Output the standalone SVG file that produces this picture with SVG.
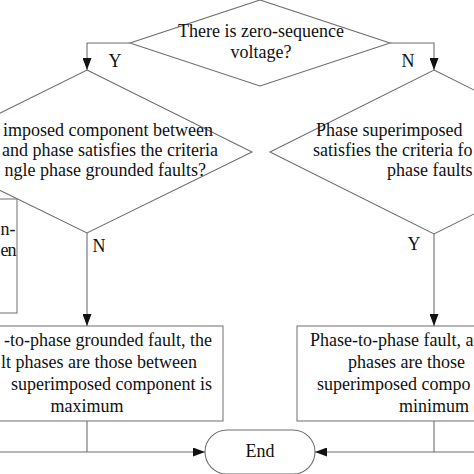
<svg xmlns="http://www.w3.org/2000/svg" width="474" height="474" viewBox="0 0 474 474">
<style>
.shape{fill:#fff;stroke:#6e6e6e;stroke-width:1.1}
.box{fill:#fff;stroke:#7a7a7a;stroke-width:1.1}
.conn{fill:none;stroke:#6e6e6e;stroke-width:1.1}
text{font-family:"Liberation Serif","Times New Roman",serif;font-size:18px;fill:#111}
.c{text-anchor:middle}
.e{text-anchor:end}
</style>
<defs>
<marker id="arr" markerUnits="userSpaceOnUse" markerWidth="12" markerHeight="9" refX="12" refY="4.5" orient="auto">
<path d="M0,0 L12,4.5 L0,9 z" fill="#111"/>
</marker>
</defs>
<rect width="474" height="474" fill="#fff"/>
<g id="connectors">
<line class="conn" x1="260" y1="-10" x2="260" y2="0"/>
<polyline class="conn" points="130,43 87,43 87,70" marker-end="url(#arr)"/>
<polyline class="conn" points="390,43 434,43 434,70" marker-end="url(#arr)"/>
<line class="conn" x1="87" y1="233" x2="87" y2="326" marker-end="url(#arr)"/>
<line class="conn" x1="434" y1="234" x2="434" y2="326" marker-end="url(#arr)"/>
<line class="conn" x1="87" y1="421" x2="87" y2="452"/>
<line class="conn" x1="-10" y1="452" x2="205" y2="452" marker-end="url(#arr)"/>
<line class="conn" x1="434" y1="421" x2="434" y2="452"/>
<line class="conn" x1="484" y1="452" x2="315" y2="452" marker-end="url(#arr)"/>
<text class="c" x="115" y="67">Y</text>
<text class="c" x="408" y="67">N</text>
<text class="c" x="99" y="252">N</text>
<text class="c" x="414" y="250">Y</text>
</g>
<g id="decision-zero-sequence">
<polygon class="shape" points="260,0 390,43 260,86 130,43"/>
<text class="c" x="261" y="37">There is zero-sequence</text>
<text class="c" x="261" y="58">voltage?</text>
</g>
<g id="decision-single-phase">
<polygon class="shape" points="87,70 252,152 87,233 -78,152"/>
<text class="e" x="213" y="136">imposed component between</text>
<text class="e" x="218" y="156">and phase satisfies the criteria</text>
<text class="e" x="206" y="176">ngle phase grounded faults?</text>
</g>
<g id="decision-phase-to-phase">
<polygon class="shape" points="434,70 598,152 434,234 270,152"/>
<text x="316" y="136">Phase superimposed</text>
<text x="313" y="156">satisfies the criteria fo</text>
<text x="387" y="176">phase faults</text>
</g>
<g id="box-single-phase-fault">
<rect class="box" x="-100" y="199" width="117" height="114"/>
<text x="0.5" y="235">n-</text>
<text x="0.5" y="256" letter-spacing="-1">en</text>
</g>
<g id="box-grounded-fault">
<rect class="box" x="-49" y="326" width="272" height="95"/>
<text class="e" x="212" y="346">-to-phase grounded fault, the</text>
<text class="e" x="197" y="368">lt phases are those between</text>
<text class="e" x="212" y="390">superimposed component is</text>
<text class="c" x="87" y="412">maximum</text>
</g>
<g id="box-phase-fault">
<rect class="box" x="297" y="326" width="274" height="95"/>
<text x="310" y="346">Phase-to-phase fault, a</text>
<text x="348" y="368">phases are those</text>
<text x="317" y="390">superimposed compo</text>
<text class="c" x="434" y="412">minimum</text>
</g>
<g id="end">
<path class="shape" d="M227,430 H293 A22,22 0 0 1 293,474 H227 A22,22 0 0 1 227,430 Z"/>
<text class="c" x="260" y="457">End</text>
</g>
</svg>
